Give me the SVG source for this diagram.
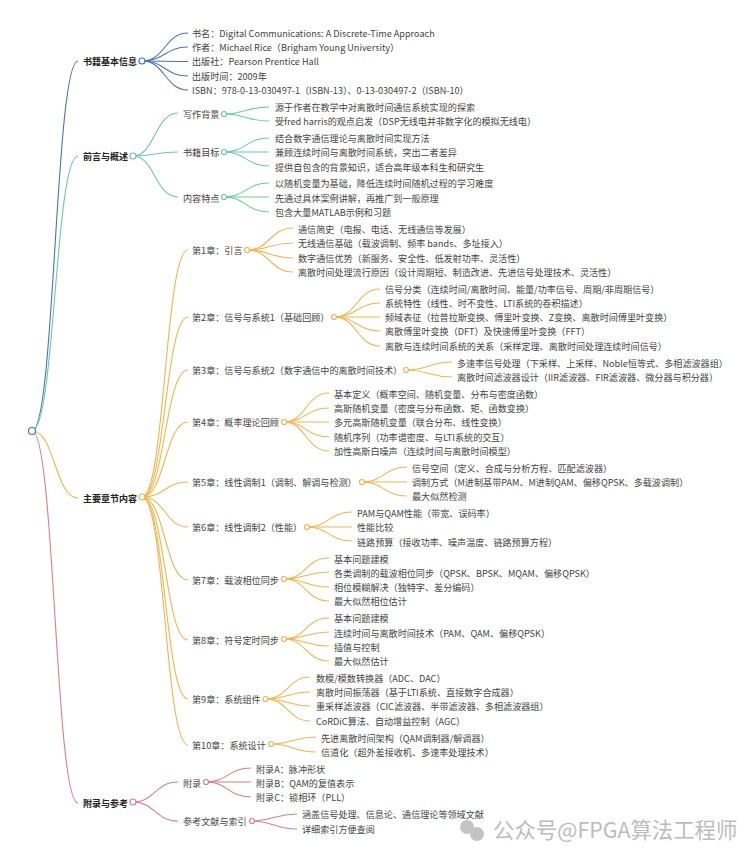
<svg xmlns="http://www.w3.org/2000/svg" width="756" height="861" viewBox="0 0 756 861">
<style>
text{font-family:"Noto Sans CJK SC","Noto Sans",sans-serif;font-size:9.1px;fill:#444}
.b{font-size:9px;font-weight:700;fill:#222}
path{fill:none;stroke-width:1.1}
circle{fill:#fff;stroke-width:1.2}
.cb path{stroke:#4a74b4}.cg path{stroke:#6cc9a0}.co path{stroke:#f3b44c}.cr path{stroke:#d77f8c}
circle.nb{stroke:#4a74b4}circle.ng{stroke:#6cc9a0}circle.no{stroke:#efb454}circle.nr{stroke:#d77f8c}
.wm{font-size:21.400px;fill:#bcbcbc}
</style>
<rect width="756" height="861" fill="#fff"/>
<g id="connectors">
<g class="cb">
<path d="M32 431C55 431 55 61 78 61"/>
<path d="M142 61C165 61 165 33 188 33"/>
<path d="M142 61C165 61 165 47 188 47"/>
<path d="M142 61C165 61 165 61.500 188 61.500"/>
<path d="M142 61C165 61 165 76 188 76"/>
<path d="M142 61C165 61 165 90 188 90"/>
</g>
<g class="cg">
<path d="M32 431C55 431 55 156 78 156"/>
<path d="M133 156C155 156 155 113 178 113"/>
<path d="M133 156C155 156 155 152 178 152"/>
<path d="M133 156C155 156 155 197 178 197"/>
<path d="M224 114C246 114 246 107 269 107"/>
<path d="M224 114C246 114 246 121 269 121"/>
<path d="M224 152C246 152 246 138 269 138"/>
<path d="M224 152C246 152 246 152 269 152"/>
<path d="M224 152C246 152 246 166 269 166"/>
<path d="M224 197C246 197 246 183 269 183"/>
<path d="M224 197C246 197 246 197 269 197"/>
<path d="M224 197C246 197 246 212 269 212"/>
</g>
<g class="co">
<path d="M32 431C55 431 55 498 78 498"/>
<path d="M142 497C165 497 165 250 188 250"/>
<path d="M142 497C165 497 165 317 188 317"/>
<path d="M142 497C165 497 165 370 188 370"/>
<path d="M142 497C165 497 165 422 188 422"/>
<path d="M142 497C165 497 165 482 188 482"/>
<path d="M142 497C165 497 165 527 188 527"/>
<path d="M142 497C165 497 165 580 188 580"/>
<path d="M142 497C165 497 165 640 188 640"/>
<path d="M142 497C165 497 165 699 188 699"/>
<path d="M142 497C165 497 165 745 188 745"/>
<path d="M247 250C270 250 270 228 293 228"/>
<path d="M247 250C270 250 270 243 293 243"/>
<path d="M247 250C270 250 270 258 293 258"/>
<path d="M247 250C270 250 270 272 293 272"/>
<path d="M334 317C357 317 357 289 380 289"/>
<path d="M334 317C357 317 357 303 380 303"/>
<path d="M334 317C357 317 357 317 380 317"/>
<path d="M334 317C357 317 357 331 380 331"/>
<path d="M334 317C357 317 357 346 380 346"/>
<path d="M406 370C429 370 429 362 452 362"/>
<path d="M406 370C429 370 429 377 452 377"/>
<path d="M284 422C306 422 306 393 329 393"/>
<path d="M284 422C306 422 306 408 329 408"/>
<path d="M284 422C306 422 306 422 329 422"/>
<path d="M284 422C306 422 306 437 329 437"/>
<path d="M284 422C306 422 306 451 329 451"/>
<path d="M362 482C384 482 384 467 407 467"/>
<path d="M362 482C384 482 384 482 407 482"/>
<path d="M362 482C384 482 384 496 407 496"/>
<path d="M307 527C329 527 329 512 352 512"/>
<path d="M307 527C329 527 329 527 352 527"/>
<path d="M307 527C329 527 329 541 352 541"/>
<path d="M284 579C306 579 306 558 329 558"/>
<path d="M284 579C306 579 306 572 329 572"/>
<path d="M284 579C306 579 306 587 329 587"/>
<path d="M284 579C306 579 306 601 329 601"/>
<path d="M284 639C306 639 306 618 329 618"/>
<path d="M284 639C306 639 306 632 329 632"/>
<path d="M284 639C306 639 306 646 329 646"/>
<path d="M284 639C306 639 306 661 329 661"/>
<path d="M265 699C288 699 288 677 310 677"/>
<path d="M265 699C288 699 288 692 310 692"/>
<path d="M265 699C288 699 288 706 310 706"/>
<path d="M265 699C288 699 288 721 310 721"/>
<path d="M271 744C293 744 293 737 316 737"/>
<path d="M271 744C293 744 293 752 316 752"/>
</g>
<g class="cr">
<path d="M32 431C55 431 55 803 78 803"/>
<path d="M133 802C155 802 155 782 178 782"/>
<path d="M133 802C155 802 155 821 178 821"/>
<path d="M206 782C228 782 228 768 251 768"/>
<path d="M206 782C228 782 228 782 251 782"/>
<path d="M206 782C228 782 228 797 251 797"/>
<path d="M252 821C274 821 274 814 297 814"/>
<path d="M252 821C274 821 274 829 297 829"/>
</g>
</g>
<g id="root"><circle class="nb" cx="32" cy="431" r="3.500"/></g>
<g id="n1"><text class="b" x="83" y="64.500">书籍基本信息</text><circle class="nb" cx="142" cy="61" r="3"/></g>
<g id="n1-1"><text x="192" y="36.500">书名：Digital Communications: A Discrete-Time Approach</text></g>
<g id="n1-2"><text x="192" y="51">作者：Michael Rice（Brigham Young University）</text></g>
<g id="n1-3"><text x="192" y="65">出版社：Pearson Prentice Hall</text></g>
<g id="n1-4"><text x="192" y="79.500">出版时间：2009年</text></g>
<g id="n1-5"><text x="192" y="93.500">ISBN：978-0-13-030497-1（ISBN-13）、0-13-030497-2（ISBN-10）</text></g>
<g id="n2"><text class="b" x="83" y="159.500">前言与概述</text><circle class="ng" cx="133" cy="156" r="3"/></g>
<g id="n2-1"><text x="183" y="117.500">写作背景</text><circle class="ng" cx="224" cy="114" r="2.500"/></g>
<g id="n2-1-1"><text x="275" y="110.500">源于作者在教学中对离散时间通信系统实现的探索</text></g>
<g id="n2-1-2"><text x="275" y="125">受fred harris的观点启发（DSP无线电并非数字化的模拟无线电）</text></g>
<g id="n2-2"><text x="183" y="156">书籍目标</text><circle class="ng" cx="224" cy="152" r="2.500"/></g>
<g id="n2-2-1"><text x="275" y="142">结合数字通信理论与离散时间实现方法</text></g>
<g id="n2-2-2"><text x="275" y="156">兼顾连续时间与离散时间系统，突出二者差异</text></g>
<g id="n2-2-3"><text x="275" y="170.500">提供自包含的背景知识，适合高年级本科生和研究生</text></g>
<g id="n2-3"><text x="183" y="201.500">内容特点</text><circle class="ng" cx="224" cy="197" r="2.500"/></g>
<g id="n2-3-1"><text x="275" y="187">以随机变量为基础，降低连续时间随机过程的学习难度</text></g>
<g id="n2-3-2"><text x="275" y="201.500">先通过具体案例讲解，再推广到一般原理</text></g>
<g id="n2-3-3"><text x="275" y="216">包含大量MATLAB示例和习题</text></g>
<g id="n3"><text class="b" x="83" y="501.500">主要章节内容</text><circle class="no" cx="142" cy="497" r="3"/></g>
<g id="c1"><text x="192" y="254">第1章：引言</text><circle class="no" cx="247" cy="250" r="2.500"/></g>
<g id="c1-1"><text x="298" y="232.500">通信简史（电报、电话、无线通信等发展）</text></g>
<g id="c1-2"><text x="298" y="247">无线通信基础（载波调制、频率 bands、多址接入）</text></g>
<g id="c1-3"><text x="298" y="261.500">数字通信优势（新服务、安全性、低发射功率、灵活性）</text></g>
<g id="c1-4"><text x="298" y="275.500">离散时间处理流行原因（设计周期短、制造改进、先进信号处理技术、灵活性）</text></g>
<g id="c2"><text x="192" y="320.500">第2章：信号与系统1（基础回顾）</text><circle class="no" cx="334" cy="317" r="2.500"/></g>
<g id="c2-1"><text x="385" y="292.500">信号分类（连续时间/离散时间、能量/功率信号、周期/非周期信号）</text></g>
<g id="c2-2"><text x="385" y="306.500">系统特性（线性、时不变性、LTI系统的卷积描述）</text></g>
<g id="c2-3"><text x="385" y="321">频域表征（拉普拉斯变换、傅里叶变换、Z变换、离散时间傅里叶变换）</text></g>
<g id="c2-4"><text x="385" y="335">离散傅里叶变换（DFT）及快速傅里叶变换（FFT）</text></g>
<g id="c2-5"><text x="385" y="349.500">离散与连续时间系统的关系（采样定理、离散时间处理连续时间信号）</text></g>
<g id="c3"><text x="192" y="373.500">第3章：信号与系统2（数字通信中的离散时间技术）</text><circle class="no" cx="406" cy="370" r="2.500"/></g>
<g id="c3-1"><text x="457" y="366.500">多速率信号处理（下采样、上采样、Noble恒等式、多相滤波器组）</text></g>
<g id="c3-2"><text x="457" y="380.500">离散时间滤波器设计（IIR滤波器、FIR滤波器、微分器与积分器）</text></g>
<g id="c4"><text x="192" y="426">第4章：概率理论回顾</text><circle class="no" cx="284" cy="422" r="2.500"/></g>
<g id="c4-1"><text x="334" y="397.500">基本定义（概率空间、随机变量、分布与密度函数）</text></g>
<g id="c4-2"><text x="334" y="412">高斯随机变量（密度与分布函数、矩、函数变换）</text></g>
<g id="c4-3"><text x="334" y="426">多元高斯随机变量（联合分布、线性变换）</text></g>
<g id="c4-4"><text x="334" y="440.500">随机序列（功率谱密度、与LTI系统的交互）</text></g>
<g id="c4-5"><text x="334" y="454.500">加性高斯白噪声（连续时间与离散时间模型）</text></g>
<g id="c5"><text x="192" y="486">第5章：线性调制1（调制、解调与检测）</text><circle class="no" cx="362" cy="482" r="2.500"/></g>
<g id="c5-1"><text x="412" y="471.500">信号空间（定义、合成与分析方程、匹配滤波器）</text></g>
<g id="c5-2"><text x="412" y="485.500">调制方式（M进制基带PAM、M进制QAM、偏移QPSK、多载波调制）</text></g>
<g id="c5-3"><text x="412" y="500">最大似然检测</text></g>
<g id="c6"><text x="192" y="531">第6章：线性调制2（性能）</text><circle class="no" cx="307" cy="527" r="2.500"/></g>
<g id="c6-1"><text x="357" y="516.500">PAM与QAM性能（带宽、误码率）</text></g>
<g id="c6-2"><text x="357" y="531">性能比较</text></g>
<g id="c6-3"><text x="357" y="545.500">链路预算（接收功率、噪声温度、链路预算方程）</text></g>
<g id="c7"><text x="192" y="583.500">第7章：载波相位同步</text><circle class="no" cx="284" cy="579" r="2.500"/></g>
<g id="c7-1"><text x="334" y="562.500">基本问题建模</text></g>
<g id="c7-2"><text x="334" y="576.500">各类调制的载波相位同步（QPSK、BPSK、MQAM、偏移QPSK）</text></g>
<g id="c7-3"><text x="334" y="591">相位模糊解决（独特字、差分编码）</text></g>
<g id="c7-4"><text x="334" y="605">最大似然相位估计</text></g>
<g id="c8"><text x="192" y="643.500">第8章：符号定时同步</text><circle class="no" cx="284" cy="639" r="2.500"/></g>
<g id="c8-1"><text x="334" y="622">基本问题建模</text></g>
<g id="c8-2"><text x="334" y="636.500">连续时间与离散时间技术（PAM、QAM、偏移QPSK）</text></g>
<g id="c8-3"><text x="334" y="650.500">插值与控制</text></g>
<g id="c8-4"><text x="334" y="665">最大似然估计</text></g>
<g id="c9"><text x="192" y="703">第9章：系统组件</text><circle class="no" cx="265.500" cy="699" r="2.500"/></g>
<g id="c9-1"><text x="316" y="681.500">数模/模数转换器（ADC、DAC）</text></g>
<g id="c9-2"><text x="316" y="696">离散时间振荡器（基于LTI系统、直接数字合成器）</text></g>
<g id="c9-3"><text x="316" y="710">重采样滤波器（CIC滤波器、半带滤波器、多相滤波器组）</text></g>
<g id="c9-4"><text x="316" y="724.500">CoRDiC算法、自动增益控制（AGC）</text></g>
<g id="c10"><text x="192" y="748.500">第10章：系统设计</text><circle class="no" cx="271" cy="744" r="2.500"/></g>
<g id="c10-1"><text x="321" y="741.500">先进离散时间架构（QAM调制器/解调器）</text></g>
<g id="c10-2"><text x="321" y="755.500">信道化（超外差接收机、多速率处理技术）</text></g>
<g id="n4"><text class="b" x="83" y="806.500">附录与参考</text><circle class="nr" cx="133" cy="802" r="3"/></g>
<g id="n4-1"><text x="183" y="786.500">附录</text><circle class="nr" cx="206" cy="782" r="2.500"/></g>
<g id="n4-1-1"><text x="256" y="772.500">附录A：脉冲形状</text></g>
<g id="n4-1-2"><text x="256" y="786.500">附录B：QAM的复值表示</text></g>
<g id="n4-1-3"><text x="256" y="801">附录C：锁相环（PLL）</text></g>
<g id="n4-2"><text x="183" y="825">参考文献与索引</text><circle class="nr" cx="252" cy="821" r="2.500"/></g>
<g id="n4-2-1"><text x="302" y="818">涵盖信号处理、信息论、通信理论等领域文献</text></g>
<g id="n4-2-2"><text x="302" y="832.500">详细索引方便查阅</text></g>
<g id="watermark"><circle cx="467" cy="827" r="7" style="fill:#c4c4c4;stroke:none"/><circle cx="477" cy="834" r="7" style="fill:#c4c4c4;stroke:none;"/><text class="wm" x="493" y="838">公众号@FPGA算法工程师</text></g>
</svg>
